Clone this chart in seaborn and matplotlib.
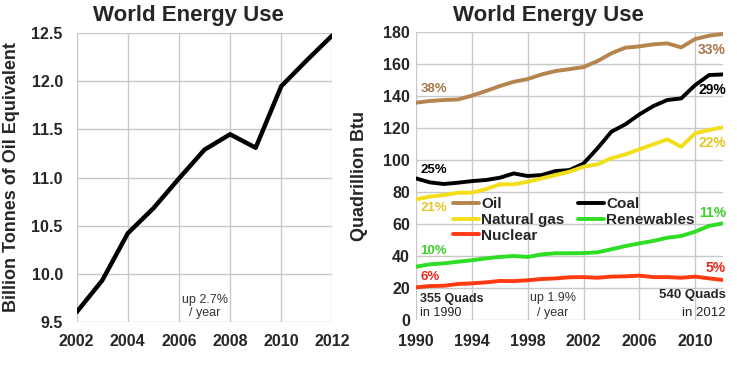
import numpy as np
import pandas as pd
import seaborn as sns
import matplotlib.pyplot as plt

# left chart: world energy use in billion tonnes oil equivalent
years_left = [2002, 2003, 2004, 2005, 2006, 2007, 2008, 2009, 2010, 2011, 2012]
toe = [9.60, 9.93, 10.42, 10.68, 10.99, 11.29, 11.45, 11.31, 11.95, 12.22, 12.48]

# right chart: quadrillion Btu by source
years = list(range(1990, 2013))
oil = [136.0, 137.1, 137.7, 138.0, 140.4, 143.3, 146.4, 149.1, 150.8, 153.7, 155.8, 157.0,
       158.3, 162.0, 166.9, 170.4, 171.2, 172.5, 173.1, 170.6, 175.8, 177.9, 179.0]
coal = [88.7, 86.2, 85.2, 86.0, 87.0, 87.7, 89.1, 91.8, 90.2, 90.8, 93.3, 93.9,
        98.0, 107.5, 117.9, 122.5, 128.7, 133.9, 137.7, 138.7, 147.0, 153.3, 153.7]
gas = [75.6, 77.3, 78.3, 79.7, 79.8, 81.9, 85.0, 85.0, 86.6, 88.7, 90.8, 92.9,
       96.0, 97.5, 101.3, 103.7, 106.9, 110.0, 113.1, 108.5, 116.9, 119.0, 120.6]
renew = [33.5, 35.0, 35.6, 36.6, 37.5, 38.7, 39.6, 40.2, 39.6, 41.2, 41.9, 41.9,
         42.0, 42.5, 44.4, 46.4, 48.1, 49.6, 51.6, 52.7, 55.4, 59.0, 60.6]
nuclear = [20.6, 21.4, 21.6, 22.7, 23.1, 23.7, 24.6, 24.5, 25.0, 25.8, 26.2, 26.9,
           27.0, 26.6, 27.3, 27.5, 27.9, 27.0, 27.0, 26.6, 27.3, 26.2, 25.2]

sources = ["Oil", "Coal", "Natural gas", "Renewables", "Nuclear"]
colors = {"Oil": "#B5844F", "Coal": "#000000", "Natural gas": "#F2DF1A",
          "Renewables": "#2EDD24", "Nuclear": "#FF3A12"}
start_pct = ["38%", "25%", "21%", "10%", "6%"]
end_pct = ["33%", "29%", "22%", "11%", "5%"]
text_colors = ["#A8784A", "#000000", "#E2C62A", "#3FCF2E", "#EE2A1A"]

df_left = pd.DataFrame({"year": years_left, "toe": toe})
df = pd.DataFrame({"year": years, "Oil": oil, "Coal": coal, "Natural gas": gas,
                   "Renewables": renew, "Nuclear": nuclear})
df_long = df.melt(id_vars="year", var_name="source", value_name="quads")

sns.set_style("white")
plt.rcParams['font.family'] = ['Liberation Sans', 'DejaVu Sans']

fig = plt.figure(figsize=(7.37, 3.73), dpi=100)
ax1 = fig.add_axes([0.104, 0.1375, 0.347, 0.773])
ax2 = fig.add_axes([0.5645, 0.1413, 0.4166, 0.772])

grid_col = "#C8C8C8"

# left chart
sns.lineplot(ax=ax1, data=df_left, x="year", y="toe", color="black", linewidth=3.2)
ax1.set_xlim(2002, 2012)
ax1.set_ylim(9.5, 12.5)
ax1.set_xticks([2002, 2004, 2006, 2008, 2010, 2012])
ax1.set_yticks(np.arange(9.5, 12.51, 0.5))
ax1.set_yticklabels(["9.5", "10.0", "10.5", "11.0", "11.5", "12.0", "12.5"])
ax1.set_xlabel("")
ax1.set_ylabel("Billion Tonnes of Oil Equivalent", fontsize=13, fontweight="bold")
ax1.yaxis.set_label_coords(-0.22, 0.5)
ax1.tick_params(axis="y", length=0, pad=10, labelsize=11.5)
ax1.tick_params(axis="x", length=0, pad=9, labelsize=11.5)
ax1.text(2007.0, 9.726, "up 2.7%", ha="center", va="center", fontsize=9, color="#333333")
ax1.text(2007.0, 9.587, "/ year", ha="center", va="center", fontsize=9, color="#333333")

# right chart
sns.lineplot(ax=ax2, data=df_long, x="year", y="quads", hue="source",
             hue_order=sources, palette=colors, linewidth=2.8, legend=False)
ax2.set_xlim(1990, 2012)
ax2.set_ylim(0, 180)
ax2.set_xticks([1990, 1994, 1998, 2002, 2006, 2010])
ax2.set_yticks(range(0, 181, 20))
ax2.set_xlabel("")
ax2.set_ylabel("Quadrillion Btu", fontsize=13, fontweight="bold")
ax2.yaxis.set_label_coords(-0.157, 0.5)
ax2.tick_params(axis="y", length=0, pad=4.5, labelsize=11.5)
ax2.tick_params(axis="x", length=0, pad=10, labelsize=11.5)

start_y = [144.6, 94.0, 70.0, 43.5, 27.0]
end_y = [169.0, 143.7, 110.6, 67.2, 32.9]
for lab, y, c in zip(start_pct, start_y, text_colors):
    ax2.text(1990.3, y, lab, ha="left", va="center", fontsize=9.5,
             fontweight="bold", color=c)
for lab, y, c in zip(end_pct, end_y, text_colors):
    ax2.text(2012.2, y, lab, ha="right", va="center", fontsize=10,
             fontweight="bold", color=c)

ax2.text(1990.3, 13.3, "355 Quads", ha="left", va="center", fontsize=9, fontweight="bold")
ax2.text(1990.3, 4.7, "in 1990", ha="left", va="center", fontsize=9, color="#222222")
ax2.text(1999.8, 13.7, "up 1.9%", ha="center", va="center", fontsize=9, color="#333333")
ax2.text(1999.8, 4.7, "/ year", ha="center", va="center", fontsize=9, color="#333333")
ax2.text(2012.2, 15.8, "540 Quads", ha="right", va="center", fontsize=9.5, fontweight="bold")
ax2.text(2012.2, 4.7, "in 2012", ha="right", va="center", fontsize=9.5, color="#222222")

handle_map = dict(zip(sources, ax2.lines[:5]))
order = ["Oil", "Natural gas", "Nuclear", "Coal", "Renewables"]
leg = ax2.legend([handle_map[s] for s in order], order, ncol=2, loc="upper left",
                 bbox_to_anchor=(0.12, 0.428), frameon=False, borderpad=0,
                 borderaxespad=0, labelspacing=0.12, handlelength=1.7,
                 handletextpad=0.15, columnspacing=0.9,
                 prop={"size": 11, "weight": "bold"})

for ax in (ax1, ax2):
    ax.grid(True, color=grid_col, linewidth=1)
    ax.set_axisbelow(True)
    for s in ax.spines.values():
        s.set_visible(False)
    for t in ax.get_xticklabels() + ax.get_yticklabels():
        t.set_fontweight("bold")

fig.text(188 / 737, 1 - 16 / 373, "World Energy Use", ha="center", va="center",
         fontsize=16, fontweight="bold")
fig.text(548 / 737, 1 - 16 / 373, "World Energy Use", ha="center", va="center",
         fontsize=16, fontweight="bold")

fig.savefig("out.png", dpi=100)
